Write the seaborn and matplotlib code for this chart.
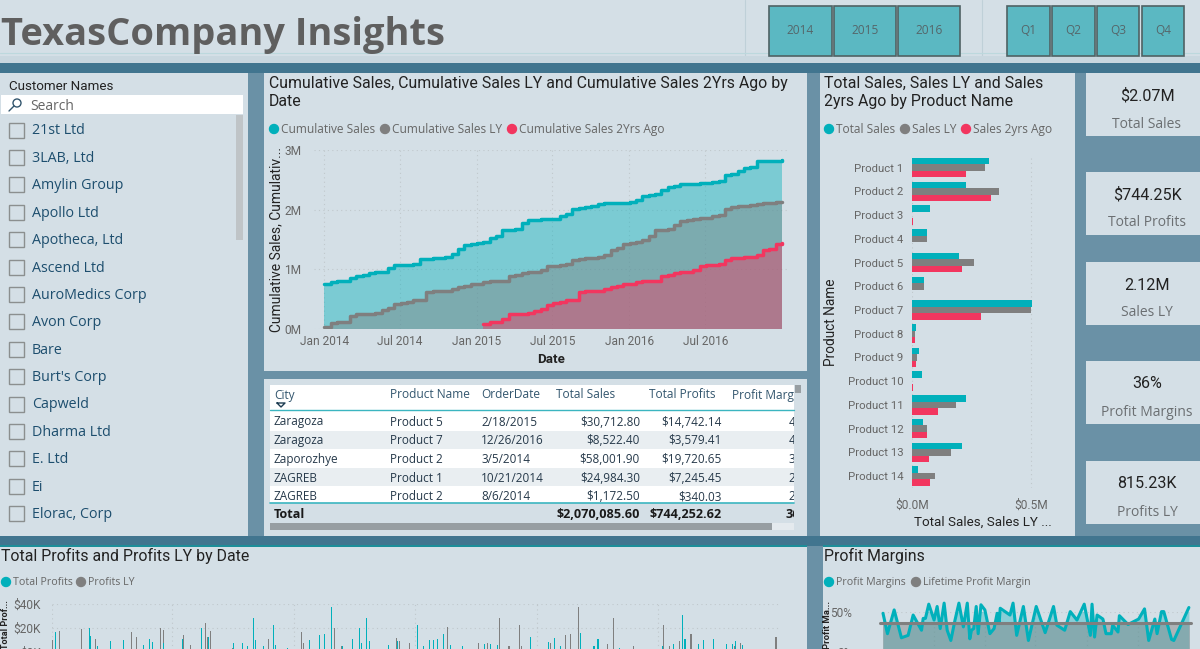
import pandas as pd
import matplotlib
matplotlib.use('Agg')
import matplotlib.pyplot as plt
from matplotlib.patches import Rectangle, Circle
from matplotlib.transforms import Bbox
import seaborn as sns

W, H = 1200, 649
TEAL = '#01b0bb'
GREY = '#7f7f7f'
RED = '#f2365f'
PANEL = '#d4dfe6'
STRIP = '#6a91a6'
BAND = '#41758f'
AXIS_TXT = '#666666'
DIN = 'Roboto'
UI = 'Open Sans'

# cumulative chart, two values per month in millions
dates = pd.date_range('2014-01-01', '2017-01-01', periods=73)
cum_sales = [.75, .78, .80, .80, .85, .89, .905, .94, .955, .96, 1.03, 1.07, 1.07, 1.08, 1.09, 1.17, 1.18, 1.19,
             1.195, 1.21, 1.26, 1.335, 1.41, 1.43, 1.435, 1.46, 1.52, 1.56, 1.655, 1.66, 1.67, 1.78, 1.82, 1.83,
             1.85, 1.85, 1.85, 1.90, 1.93, 2.01, 2.03, 2.05, 2.055, 2.09, 2.105, 2.11, 2.12, 2.12, 2.13, 2.16,
             2.235, 2.245, 2.26, 2.33, 2.375, 2.40, 2.43, 2.435, 2.435, 2.44, 2.44, 2.46, 2.485, 2.585, 2.59,
             2.64, 2.69, 2.72, 2.81, 2.815, 2.815, 2.82, 2.83]
cum_sales_ly = [.04, .105, .117, .123, .22, .25, .25, .25, .26, .32, .35, .42, .44, .46, .48, .49, .625, .64,
                .64, .64, .675, .70, .725, .75, .755, .79, .80, .805, .81, .88, .905, .94, .95, .96, .99, 1.055,
                1.06, 1.07, 1.09, 1.155, 1.18, 1.195, 1.195, 1.20, 1.24, 1.325, 1.35, 1.43, 1.435, 1.45, 1.49,
                1.56, 1.655, 1.66, 1.67, 1.745, 1.815, 1.83, 1.845, 1.855, 1.855, 1.895, 1.91, 2.01, 2.04, 2.055,
                2.06, 2.08, 2.10, 2.105, 2.11, 2.13, 2.135]
# this one only starts in January 2015
cum_sales_2y = [.085, .11, .12, .17, .245, .255, .255, .26, .31, .34, .40, .43, .45, .48, .49, .625, .64, .64,
                .64, .675, .70, .725, .75, .755, .79, .80, .805, .81, .88, .90, .94, .95, .96, .99, 1.055, 1.065,
                1.07, 1.09, 1.155, 1.185, 1.195, 1.20, 1.21, 1.24, 1.325, 1.345, 1.425, 1.445]
month_ticks = ['2014-01-01', '2014-07-01', '2015-01-01', '2015-07-01', '2016-01-01', '2016-07-01']
month_tick_labels = ['Jan 2014', 'Jul 2014', 'Jan 2015', 'Jul 2015', 'Jan 2016', 'Jul 2016']

# products chart, millions
products = [f'Product {i}' for i in range(1, 15)]
sales_total = [.326, .227, .074, .062, .200, .049, .504, .018, .031, .042, .229, .048, .209, .025]
sales_ly = [.309, .367, .002, .062, .263, .050, .503, .011, .021, .002, .184, .063, .164, .098]
sales_2y = [.226, .333, .004, 0, .212, 0, .291, .011, .017, .004, .108, .063, .073, .076]

# profits chart, day number since Jan 2014 and thousands of dollars
profit_days = [5, 56, 58, 68, 88, 108, 138, 147, 152, 168, 196, 225, 235, 273, 287, 294, 303, 306, 319,
               333, 336, 354, 388, 403, 410, 421, 438, 452, 463, 466, 474, 478, 506, 520, 550, 559, 568,
               575, 581, 589, 600, 618, 651, 660, 671, 720, 747, 757, 765, 796, 816, 822, 855, 919, 935,
               949, 953, 973, 981, 996, 1015, 1024, 1029, 1040]
profit_vals = [16.7, 20, 13, 5.3, 8.9, 9.7, 6.1, 11.1, 8.3, 7.2, 11.1, 20, 12.2, 7.5, 7.5, 4.7, 28.3, 10, 4.7,
               22.2, 6.1, 3.3, 10.3, 13.9, 15, 37.8, 5.3, 11.1, 20, 7.5, 28.3, 9.4, 6.1, 8.9, 22.2, 5.3, 10.3,
               10, 10.6, 15.3, 5.6, 4.7, 6.9, 6.9, 6.1, 12.2, 8.3, 11.9, 4.7, 16.1, 4.7, 10.8, 3.3, 5.3, 6.9,
               31.1, 10.8, 6.7, 10.3, 10.8, 6.7, 6.9, 8.9, 6.1]
profit_ly_days = [1, 11, 44, 65, 69, 119, 127, 147, 163, 168, 198, 209, 231, 234, 238, 272, 295, 326, 337,
                  375, 378, 426, 436, 518, 523, 538, 595, 642, 655, 674, 688, 704, 707, 750, 773, 780, 792,
                  837, 845, 876, 921, 930, 945, 962, 1027, 1036, 1090]
profit_ly_vals = [10, 17.8, 19.4, 11.1, 4.7, 16.7, 12.5, 8.3, 20, 18.1, 14.4, 6.1, 23.9, 12.2, 17.8, 3.3, 4.7,
                  11.1, 6.1, 16.7, 7.2, 20, 5.3, 11.7, 8.9, 7.2, 20.6, 7.5, 7.2, 28.3, 4.7, 22.8, 4.7, 7.5,
                  13.9, 15, 37.8, 6.7, 28.3, 4.7, 22.2, 5.3, 8.9, 15.3, 4.7, 7.2, 12.5]

# profit margin chart, percent
margin_days = [0, 16, 40, 66, 90, 108, 138, 144, 152, 164, 183, 194, 205, 219, 230, 243, 258, 272, 288, 302,
               311, 317, 325, 334, 341, 351, 365, 383, 398, 409, 416, 420, 455, 466, 479, 503, 521, 549, 581,
               611, 623, 651, 671, 695, 721, 743, 749, 758, 767, 788, 799, 818, 823, 842, 847, 878, 916, 937,
               952, 974, 982, 998, 1006, 1034, 1042, 1096]
margin_vals = [48.4, 22.9, 52.6, 17.8, 20.8, 46.2, 27.2, 42, 42, 59.8, 39.9, 56.9, 29.3, 61.1, 27.2, 14.4, 39.9,
               61.1, 31.4, 61.1, 16.5, 27.2, 29.3, 56.9, 22.9, 59, 52.6, 22.9, 29.3, 48.4, 35.6, 54.7, 46.2,
               61.1, 20.8, 56.9, 14.4, 56.9, 24.2, 56.9, 33.5, 27.2, 50.5, 39.9, 59.8, 20.8, 59.8, 18.7, 46.2,
               41.2, 22.9, 22.9, 33.5, 25, 45.4, 34.4, 41.2, 53.9, 14.4, 41.2, 22.9, 50.5, 50.5, 15.7, 14.4, 55.6]
lifetime_margin = 36

customers = ['21st Ltd', '3LAB, Ltd', 'Amylin Group', 'Apollo Ltd', 'Apotheca, Ltd', 'Ascend Ltd',
             'AuroMedics Corp', 'Avon Corp', 'Bare', "Burt's Corp", 'Capweld', 'Dharma Ltd',
             'E. Ltd', 'Ei', 'Elorac, Corp']
years = ['2014', '2015', '2016']
quarters = ['Q1', 'Q2', 'Q3', 'Q4']
kpi_values = ['$2.07M', '$744.25K', '2.12M', '36%', '815.23K']
kpi_names = ['Total Sales', 'Total Profits', 'Sales LY', 'Profit Margins', 'Profits LY']
table_cols = ['City', 'Product Name', 'OrderDate', 'Total Sales', 'Total Profits', 'Profit Margins']
table_rows = [['Zaragoza', 'Product 5', '2/18/2015', '$30,712.80', '$14,742.14', '48.00%'],
              ['Zaragoza', 'Product 7', '12/26/2016', '$8,522.40', '$3,579.41', '42.00%'],
              ['Zaporozhye', 'Product 2', '3/5/2014', '$58,001.90', '$19,720.65', '34.00%'],
              ['ZAGREB', 'Product 1', '10/21/2014', '$24,984.30', '$7,245.45', '29.00%'],
              ['ZAGREB', 'Product 2', '8/6/2014', '$1,172.50', '$340.03', '29.00%']]
table_total = ['Total', '', '', '$2,070,085.60', '$744,252.62', '36%']

sns.set_theme(style='white')
plt.rcParams['font.family'] = [DIN, 'DejaVu Sans']
fig = plt.figure(figsize=(W / 100, H / 100), dpi=100, facecolor=PANEL)


def px_axes(left, top, right, bottom):
    # axes placed by picture pixels, y counted from the top
    ax = fig.add_axes([left / W, 1 - bottom / H, (right - left) / W, (bottom - top) / H])
    ax.patch.set_alpha(0)
    sns.despine(ax=ax, left=True, bottom=True)
    return ax


def box(x0, y0, x1, y1, color, **kw):
    bg.add_patch(Rectangle((x0, y0), x1 - x0, y1 - y0, facecolor=color, edgecolor=kw.pop('edge', 'none'), **kw))


def legend(items, y, size=8.6):
    for cx, label, color in items:
        bg.add_patch(Circle((cx, y), 4.5, color=color))
        bg.text(cx + 7, y + .5, label, fontsize=size, color=AXIS_TXT, va='center', family=UI)


def dotted_grid(ax, axis='both'):
    ax.grid(True, axis=axis, color='#c0c8cc', linestyle=(0, (1, 3)), linewidth=.8)
    ax.set_axisbelow(True)
    ax.tick_params(length=0, labelcolor=AXIS_TXT, labelsize=8.6, pad=3)


def table_text(x, y, s, **kw):
    # table cells are cut at the right edge of the visual
    t = bg.text(x, y, s, va='center', family=UI, **kw)
    t.set_clip_box(Bbox([[270, H - 520], [794, H - 380]]))
    t.set_clip_on(True)


# background layer, in picture pixels
bg = fig.add_axes([0, 0, 1, 1])
bg.set_xlim(0, W)
bg.set_ylim(H, 0)
bg.axis('off')

box(0, 56, W, 63, '#c9d7df')
bg.plot([745, 745], [0, 63], color='#bfd0d8', lw=.8, zorder=.5)
bg.plot([982, 982], [0, 63], color='#bfd0d8', lw=.8, zorder=.5)
bg.plot([0, W], [53, 53], color='#bcd8dd', lw=.8, zorder=.5)
box(0, 63, W, 73, BAND)
box(1075, 73, W, 536, STRIP)
box(248, 73, 264, 546, STRIP)
box(807, 73, 820, 546, STRIP)
box(264, 371, 807, 379, STRIP)
box(0, 536, W, 546, BAND)
box(807, 546, 823, H, STRIP)
box(0, 545, 807, 547, '#1c8e99')
box(823, 545, W, 547, '#1c8e99')

bg.text(1, 35, 'TexasCompany Insights', fontsize=27.4, fontweight='bold', color='#5f5f5f', va='center', family=UI)
for x0, x1, label in zip([769, 834, 898, 1007, 1052, 1097, 1142], [832, 896, 960, 1050, 1095, 1139, 1184], years + quarters):
    box(x0, 6, x1, 56, '#5bb8c2', edge='#4f6264', linewidth=1.2)
    bg.text((x0 + x1) / 2, 31, label, fontsize=8.6, color='#55666a', ha='center', va='center', family=UI)

# slicer
bg.text(9, 86, 'Customer Names', fontsize=9.6, color='#222222', va='center')
box(1, 95, 243, 114, 'white')
bg.add_patch(Circle((17, 103), 4, fill=False, edgecolor='#33566e', lw=1))
bg.plot([9, 14], [111, 106], color='#33566e', lw=1)
bg.text(30, 106, 'Search', fontsize=10, color='#666666', va='center', family=UI)
box(236, 115, 243, 240, '#bfc4c7')
for i, name in enumerate(customers):
    y = 130 + i * 27.4
    box(8.5, y - 7.5, 23.5, y + 7.5, 'none', edge='#8b8f8f', linewidth=1)
    bg.text(32, y + 1, name, fontsize=10.3, color='#1d4e6e', va='center', family=UI)

# KPI cards
for top, value, name in zip([73, 172, 262, 361, 461], kpi_values, kpi_names):
    box(1086, top, W, top + 63, PANEL)
    bg.text(1147, top + 23, value, fontsize=11.6, color='#222222', ha='center', va='center')
    bg.text(1147, top + 51, name, fontsize=10, color='#6b6f72', ha='center', va='center', family=UI)

# table
box(270, 385, 794, 503, 'white')
box(270, 431, 794, 449, '#e9eef1')
box(270, 468, 794, 486, '#e9eef1')
bg.plot([270, 794], [410, 410], color='#3bb5c0', lw=1)
bg.plot([270, 794], [503, 503], color='#3bb5c0', lw=1.2)
col_x = [274, 390, 481, 640, 722, 788.5]
head_x = [274, 390, 481, 556, 649, 732]
for x, label in zip(head_x, table_cols):
    table_text(x, 395, label, fontsize=8.6, color='#33566e')
bg.plot([277, 285, 281, 277], [403, 403, 407, 403], color='#1d3c52', lw=1)
for r, row in enumerate(table_rows):
    for c, cell in enumerate(row):
        table_text(col_x[c], 422 + r * 18.7, cell, fontsize=8.5, color='#26394a',
                   ha='right' if c in (3, 4) else 'left')
for c, cell in enumerate(table_total):
    table_text(786 if c == 5 else col_x[c], 514, cell, fontsize=9.1, fontweight='bold', color='#1a1a1a',
               ha='right' if c in (3, 4) else 'left')
box(270, 523, 794, 530, '#e4eaee')
box(270, 523, 772, 530, '#979ea2')
box(795, 385, 801, 393, '#979ea2')

# titles and legends
title_kw = dict(fontsize=11.4, color='#222222', va='center')
bg.text(269, 83.5, 'Cumulative Sales, Cumulative Sales LY and Cumulative Sales 2Yrs Ago by', **title_kw)
bg.text(269, 101.5, 'Date', **title_kw)
bg.text(824, 83.5, 'Total Sales, Sales LY and Sales', **title_kw)
bg.text(824, 101.5, '2yrs Ago by Product Name', **title_kw)
bg.text(1, 555.5, 'Total Profits and Profits LY by Date', **title_kw)
bg.text(824, 555.5, 'Profit Margins', **title_kw)
legend([(274, 'Cumulative Sales', TEAL), (385, 'Cumulative Sales LY', GREY), (512, 'Cumulative Sales 2Yrs Ago', RED)], 129)
legend([(829, 'Total Sales', TEAL), (905, 'Sales LY', GREY), (966, 'Sales 2yrs Ago', RED)], 129)
legend([(6, 'Total Profits', TEAL), (81, 'Profits LY', GREY)], 582, size=7.7)
legend([(829, 'Profit Margins', TEAL), (916, 'Lifetime Profit Margin', GREY)], 582, size=7.7)

# cumulative area chart, the grid runs a little past the data on both sides
ax = px_axes(314, 150, 788, 329)
series = [(cum_sales, dates, TEAL), (cum_sales_ly, dates, GREY), (cum_sales_2y, dates[25:], RED)]
for vals, when, color in series:
    df = pd.DataFrame({'date': when, 'value': vals})
    ax.fill_between(df['date'], df['value'], step='post', color=color, alpha=.42, linewidth=0)
    sns.lineplot(data=df, x='date', y='value', color=color, linewidth=2.5, drawstyle='steps-post', ax=ax)
ax.set_xlim(dates[0] - pd.Timedelta(days=25), dates[-1] + pd.Timedelta(days=14))
ax.set_ylim(0, 3)
ax.set_xticks(pd.to_datetime(month_ticks))
ax.set_xticklabels(month_tick_labels)
ax.set_yticks([0, 1, 2, 3])
ax.set_yticklabels(['0M', '1M', '2M', '3M'])
dotted_grid(ax)
ax.tick_params(axis='y', pad=9)
ax.tick_params(axis='x', pad=4)
ax.set_xlabel('Date', fontsize=9.5, fontweight='bold', color='#222222', labelpad=4)
ax.set_ylabel('')
bg.text(276, 239, 'Cumulative Sales, Cumulativ...', fontsize=10, color='#222222', rotation=90, ha='center', va='center')

# products bar chart
ax = px_axes(912, 155.8, 1048, 488)
prod_df = pd.DataFrame({'product': products, 'Total Sales': sales_total, 'Sales LY': sales_ly, 'Sales 2yrs Ago': sales_2y})
prod_df = prod_df.melt('product', var_name='measure', value_name='value')
sns.barplot(data=prod_df, y='product', x='value', hue='measure', palette=[TEAL, GREY, RED],
            width=.82, saturation=1, legend=False, linewidth=0, ax=ax)
ax.set_xlim(0, .5 * 136 / 118.7)
ax.set_ylim(13.5, -.5)
ax.set_xticks([0, .5])
ax.set_xticklabels(['$0.0M', '$0.5M'])
dotted_grid(ax, 'x')
ax.tick_params(axis='y', pad=6, labelsize=8.2)
ax.tick_params(axis='x', pad=8)
ax.set_xlabel('')
ax.set_ylabel('')
bg.text(831, 322, 'Product Name', fontsize=9.8, color='#222222', rotation=90, ha='center', va='center')
bg.text(983, 522.6, 'Total Sales, Sales LY ...', fontsize=9.6, color='#222222', ha='center', va='center')

# profits by date, runs off the bottom of the picture
ax = px_axes(52, 604, 780, 652)
ax.bar(profit_ly_days, profit_ly_vals, width=1.6, color=GREY, linewidth=0)
ax.bar(profit_days, profit_vals, width=1.6, color=TEAL, linewidth=0)
ax.set_xlim(0, 1096)
ax.set_ylim(0, 40)
ax.set_yticks([0, 20, 40])
ax.set_yticklabels(['$0K', '$20K', '$40K'])
ax.set_xticks([0, 181, 365, 546, 730, 912])
ax.set_xticklabels([])
dotted_grid(ax)
ax.tick_params(axis='y', pad=8)
bg.text(6, 625, 'Total Prof...', fontsize=6.6, fontweight='bold', color='#222222', rotation=90, ha='center', va='center')

# profit margins, also cut by the bottom edge
ax = px_axes(883, 612, 1190, 652)
margin_df = pd.DataFrame({'day': margin_days, 'margin': margin_vals})
ax.fill_between(margin_days, margin_vals, color=TEAL, alpha=.35, linewidth=0)
ax.fill_between([0, 1100], lifetime_margin, color=GREY, alpha=.45, linewidth=0)
sns.lineplot(data=margin_df, x='day', y='margin', color=TEAL, linewidth=2.2, ax=ax)
ax.plot([-10, 1105], [lifetime_margin, lifetime_margin], color=GREY, linewidth=2.2, clip_on=False)
ax.set_xlim(0, 1100)
ax.set_ylim(0, 50)
ax.set_yticks([0, 50])
ax.set_yticklabels(['0%', '50%'])
ax.set_xticks([181, 365, 546, 730, 912])
ax.set_xticklabels([])
dotted_grid(ax)
ax.tick_params(axis='y', pad=22)
for line in ax.get_lines():
    line.set_clip_on(False)
ax.set_xlabel('')
ax.set_ylabel('')
bg.text(828, 625, 'Profit Ma...', fontsize=6.8, fontweight='bold', color='#222222', rotation=90, ha='center', va='center')

fig.savefig('out.png', dpi=100, facecolor=fig.get_facecolor())
